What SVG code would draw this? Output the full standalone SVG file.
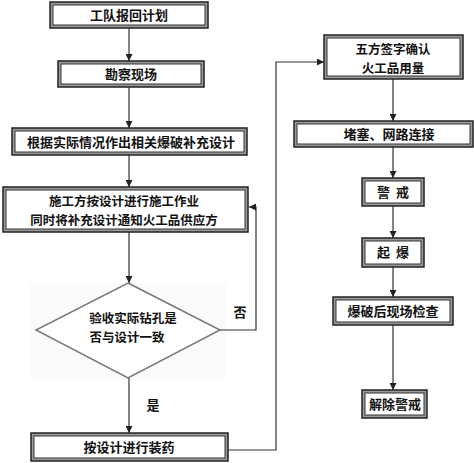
<svg xmlns="http://www.w3.org/2000/svg" width="474" height="463" viewBox="0 0 474 463">
<style>
.o{fill:#9a9a9a;stroke:#222;stroke-width:1.5}
.i{fill:#fff;stroke:#333;stroke-width:1}
.t{font-family:"Noto Sans CJK SC","Noto Sans CJK JP",sans-serif;font-size:13px;font-weight:bold;fill:#111;text-anchor:middle}
.m{font-size:12.5px}
.c{fill:none;stroke:#333;stroke-width:1.2}
</style>
<defs>
<marker id="a" viewBox="0 0 10 10" refX="10" refY="5" markerWidth="7" markerHeight="7" orient="auto" markerUnits="userSpaceOnUse">
<path d="M0,0 L10,5 L0,10 z" fill="#222"/>
</marker>
</defs>
<rect x="0" y="0" width="474" height="463" fill="#fff"/>
<rect x="30" y="283" width="196" height="97" fill="#fbfbfb"/>
<g id="connectors">
<line class="c" x1="129" y1="28" x2="129" y2="61" marker-end="url(#a)"/>
<line class="c" x1="129" y1="87" x2="129" y2="128" marker-end="url(#a)"/>
<line class="c" x1="129" y1="155" x2="129" y2="187" marker-end="url(#a)"/>
<line class="c" x1="129" y1="232" x2="129" y2="283" marker-end="url(#a)"/>
<polyline class="c" points="220,330 256,330 256,207 249,207" marker-end="url(#a)"/>
<line class="c" x1="129" y1="378" x2="129" y2="433" marker-end="url(#a)"/>
<polyline class="c" points="228,450 276,450 276,62 324,62" marker-end="url(#a)"/>
<line class="c" x1="393" y1="79" x2="393" y2="121" marker-end="url(#a)"/>
<line class="c" x1="393" y1="147" x2="393" y2="178" marker-end="url(#a)"/>
<line class="c" x1="393" y1="206" x2="393" y2="238" marker-end="url(#a)"/>
<line class="c" x1="393" y1="267" x2="393" y2="297" marker-end="url(#a)"/>
<line class="c" x1="393" y1="325" x2="393" y2="390" marker-end="url(#a)"/>
<text class="t" x="240" y="317">否</text>
<text class="t" x="153" y="410">是</text>
</g>
<g id="n1"><rect class="o" x="50" y="2" width="158" height="26"/><rect class="i" x="53" y="5" width="152" height="20"/><text class="t" x="129" y="20">工队报回计划</text></g>
<g id="n2"><rect class="o" x="58" y="61" width="146" height="26"/><rect class="i" x="61" y="64" width="140" height="20"/><text class="t" x="131" y="79">勘察现场</text></g>
<g id="n3"><rect class="o" x="12" y="128" width="235" height="27"/><rect class="i" x="15" y="131" width="229" height="21"/><text class="t" x="131" y="147">根据实际情况作出相关爆破补充设计</text></g>
<g id="n4"><rect class="o" x="3" y="187" width="245" height="45"/><rect class="i" x="6" y="190" width="239" height="39"/><text class="t m" x="124" y="206">施工方按设计进行施工作业</text><text class="t m" x="124" y="225">同时将补充设计通知火工品供应方</text></g>
<g id="n5"><polygon points="128,283 220,330 128,378 36,330" fill="#fff" stroke="#777" stroke-width="1.5"/><text class="t m" x="133" y="323">验收实际钻孔是</text><text class="t m" x="127" y="342">否与设计一致</text></g>
<g id="n6"><rect class="o" x="31" y="433" width="197" height="28"/><rect class="i" x="34" y="436" width="191" height="22"/><text class="t" x="129" y="452">按设计进行装药</text></g>
<g id="n7"><rect class="o" x="324" y="35" width="139" height="44"/><rect class="i" x="327" y="38" width="133" height="38"/><text class="t m" x="393" y="54">五方签字确认</text><text class="t m" x="393" y="73">火工品用量</text></g>
<g id="n8"><rect class="o" x="294" y="121" width="179" height="26"/><rect class="i" x="297" y="124" width="173" height="20"/><text class="t" x="389" y="139">堵塞、网路连接</text></g>
<g id="n9"><rect class="o" x="362" y="178" width="62" height="28"/><rect class="i" x="365" y="181" width="56" height="22"/><text class="t" x="393" y="197" xml:space="preserve">警  戒</text></g>
<g id="n10"><rect class="o" x="362" y="238" width="62" height="29"/><rect class="i" x="365" y="241" width="56" height="23"/><text class="t" x="393" y="257" xml:space="preserve">起  爆</text></g>
<g id="n11"><rect class="o" x="333" y="297" width="120" height="28"/><rect class="i" x="336" y="300" width="114" height="22"/><text class="t" x="393" y="316">爆破后现场检查</text></g>
<g id="n12"><rect class="o" x="362" y="390" width="65" height="28"/><rect class="i" x="365" y="393" width="59" height="22"/><text class="t" x="395" y="409">解除警戒</text></g>
</svg>
